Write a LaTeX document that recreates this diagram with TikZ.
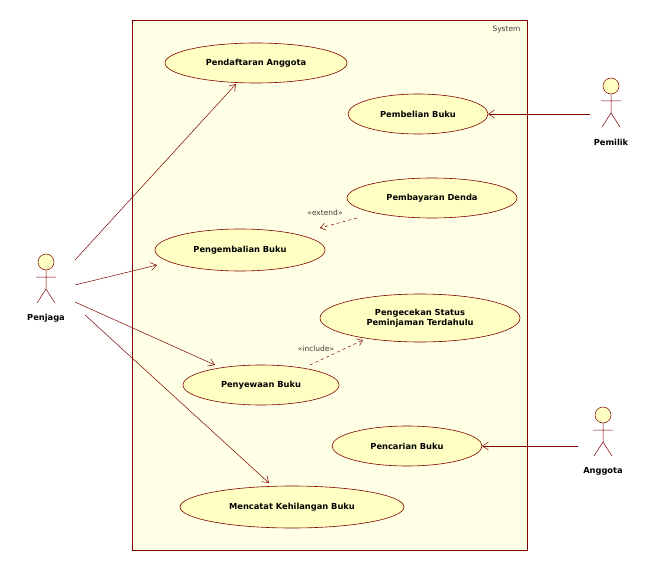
\documentclass[tikz,border=0pt]{standalone}
\usepackage{fontspec}
\setmainfont{DejaVu Sans}
\usetikzlibrary{arrows.meta}
\definecolor{ln}{HTML}{800000}
\definecolor{uc}{HTML}{FFFFC4}
\definecolor{bx}{HTML}{FFFFE6}
\begin{document}
\begin{tikzpicture}[x=1pt,y=-1pt,
  uct/.style={font=\fontsize{8.3}{10}\selectfont\bfseries, align=center},
  ac/.style={draw=ln, line width=0.5pt},
  arr/.style={ln, line width=0.5pt, -{Straight Barb[length=6pt,width=8pt]}},
  dep/.style={ln, line width=0.5pt, dashed, -{Straight Barb[length=5pt,width=7pt]}},
  st/.style={font=\fontsize{7.5}{9}\selectfont, text=black!75}]
\useasboundingbox (0,0) rectangle (658,572);
\draw[ln, fill=bx, line width=0.6pt] (132,20) rectangle (527,550);
\node[st, anchor=north east] (sys) at (524,22) {System};
\newcommand{\uc}[5]{\draw[ln,fill=uc,line width=0.6pt] (#2) ellipse [x radius=#3,y radius=#4];
  \node[uct] (#1) at (#2) {#5};}
\uc{pa}{256,63}{91}{20}{Pendaftaran Anggota}
\uc{pb}{418,114}{70}{20}{Pembelian Buku}
\uc{pd}{432,198}{85}{20}{Pembayaran Denda}
\uc{pk}{240,250}{85}{21}{Pengembalian Buku}
\uc{ps}{420,318}{100}{24}{Pengecekan Status\\Peminjaman Terdahulu}
\uc{pw}{261,385}{78}{20}{Penyewaan Buku}
\uc{pc}{407,446}{75}{20}{Pencarian Buku}
\uc{mk}{292,507}{112}{21}{Mencatat Kehilangan Buku}
\newcommand{\actor}[4]{%
  \draw[ac, fill=uc] (#2,#3) circle (8);
  \draw[ac] (#2,#3+8) -- (#2,#3+27) (#2-10,#3+15) -- (#2+10,#3+15)
     (#2-9,#3+41) -- (#2,#3+27) -- (#2+9,#3+41);
  \node[uct] (#1) at (#2,#3+56) {#4};
  \coordinate (#1c) at (#2,#3+25);}
\actor{pj}{46}{262}{Penjaga}
\actor{pm}{611}{86}{Pemilik}
\actor{ag}{603}{415}{Anggota}
\coordinate (a1) at (75,260); \coordinate (t1) at (236,84);
\coordinate (a2) at (75,285); \coordinate (t2) at (157,265);
\coordinate (a3) at (75,302); \coordinate (t3) at (215,365);
\coordinate (a4) at (85,315); \coordinate (t4) at (269,483);
\draw[arr] (a1) -- (t1);
\draw[arr] (a2) -- (t2);
\draw[arr] (a3) -- (t3);
\draw[arr] (a4) -- (t4);
\coordinate (b1) at (590,114); \coordinate (b2) at (488,114);
\draw[arr] (b1) -- (b2);
\coordinate (c1) at (578,446); \coordinate (c2) at (482,446);
\draw[arr] (c1) -- (c2);
\coordinate (e1) at (357,218); \coordinate (e2) at (320,228);
\draw[dep] (e1) -- (e2);
\node[st] (ext) at (325,213) {<<extend>>};
\coordinate (i1) at (310,365); \coordinate (i2) at (363,340);
\draw[dep] (i1) -- (i2);
\node[st] (inc) at (316,349) {<<include>>};
\end{tikzpicture}
\end{document}
